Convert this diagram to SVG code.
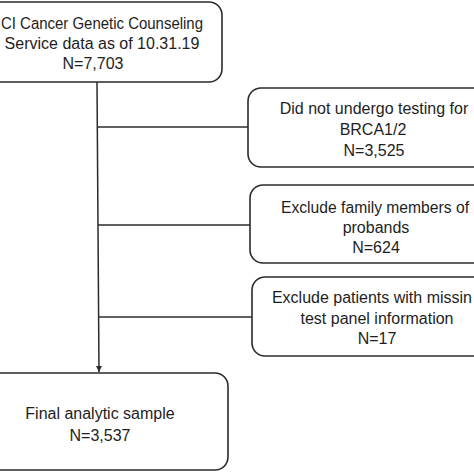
<svg xmlns="http://www.w3.org/2000/svg" width="474" height="474" viewBox="0 0 474 474">
<style>
.box{fill:#fff;stroke:#2b2b2b;stroke-width:1.6}
.ln{fill:none;stroke:#2b2b2b;stroke-width:1.5}
text{font-family:"Liberation Sans","Open Sans",sans-serif;font-size:16px;fill:#1e1e1e;text-anchor:middle;dominant-baseline:central}
</style>
<defs>
<marker id="ah" viewBox="0 0 10 10" refX="10" refY="5" markerWidth="6" markerHeight="6" orient="auto" markerUnits="userSpaceOnUse">
<path d="M0,0 L10,5 L0,10 z" fill="#2b2b2b"/>
</marker>
</defs>
<rect width="474" height="474" fill="#fff"/>
<g id="connectors">
<path class="ln" d="M97,82 L99,372" marker-end="url(#ah)"/>
<path class="ln" d="M97,127 L248,127"/>
<path class="ln" d="M98,225 L250,225"/>
<path class="ln" d="M98,317 L252,317"/>
</g>
<g id="n1">
<rect class="box" x="-30" y="2" width="252" height="80" rx="13"/>
<text x="1" y="23" style="text-anchor:start" textLength="202" lengthAdjust="spacingAndGlyphs">CI Cancer Genetic Counseling</text>
<text x="102" y="43">Service data as of 10.31.19</text>
<text x="93" y="63">N=7,703</text>
</g>
<g id="n2">
<rect class="box" x="248" y="88" width="260" height="79" rx="13"/>
<text x="374" y="108">Did not undergo testing for</text>
<text x="373" y="129">BRCA1/2</text>
<text x="374" y="150">N=3,525</text>
</g>
<g id="n3">
<rect class="box" x="250" y="185" width="260" height="78" rx="13"/>
<text x="375" y="207" textLength="188" lengthAdjust="spacingAndGlyphs">Exclude family members of</text>
<text x="376" y="227">probands</text>
<text x="376" y="247">N=624</text>
</g>
<g id="n4">
<rect class="box" x="252" y="277" width="260" height="79" rx="13"/>
<text x="472" y="297" style="text-anchor:end">Exclude patients with missin</text>
<text x="377" y="318">test panel information</text>
<text x="377" y="338">N=17</text>
</g>
<g id="n5">
<rect class="box" x="-30" y="373" width="258" height="97" rx="13"/>
<text x="100" y="413">Final analytic sample</text>
<text x="100" y="435">N=3,537</text>
</g>
</svg>
